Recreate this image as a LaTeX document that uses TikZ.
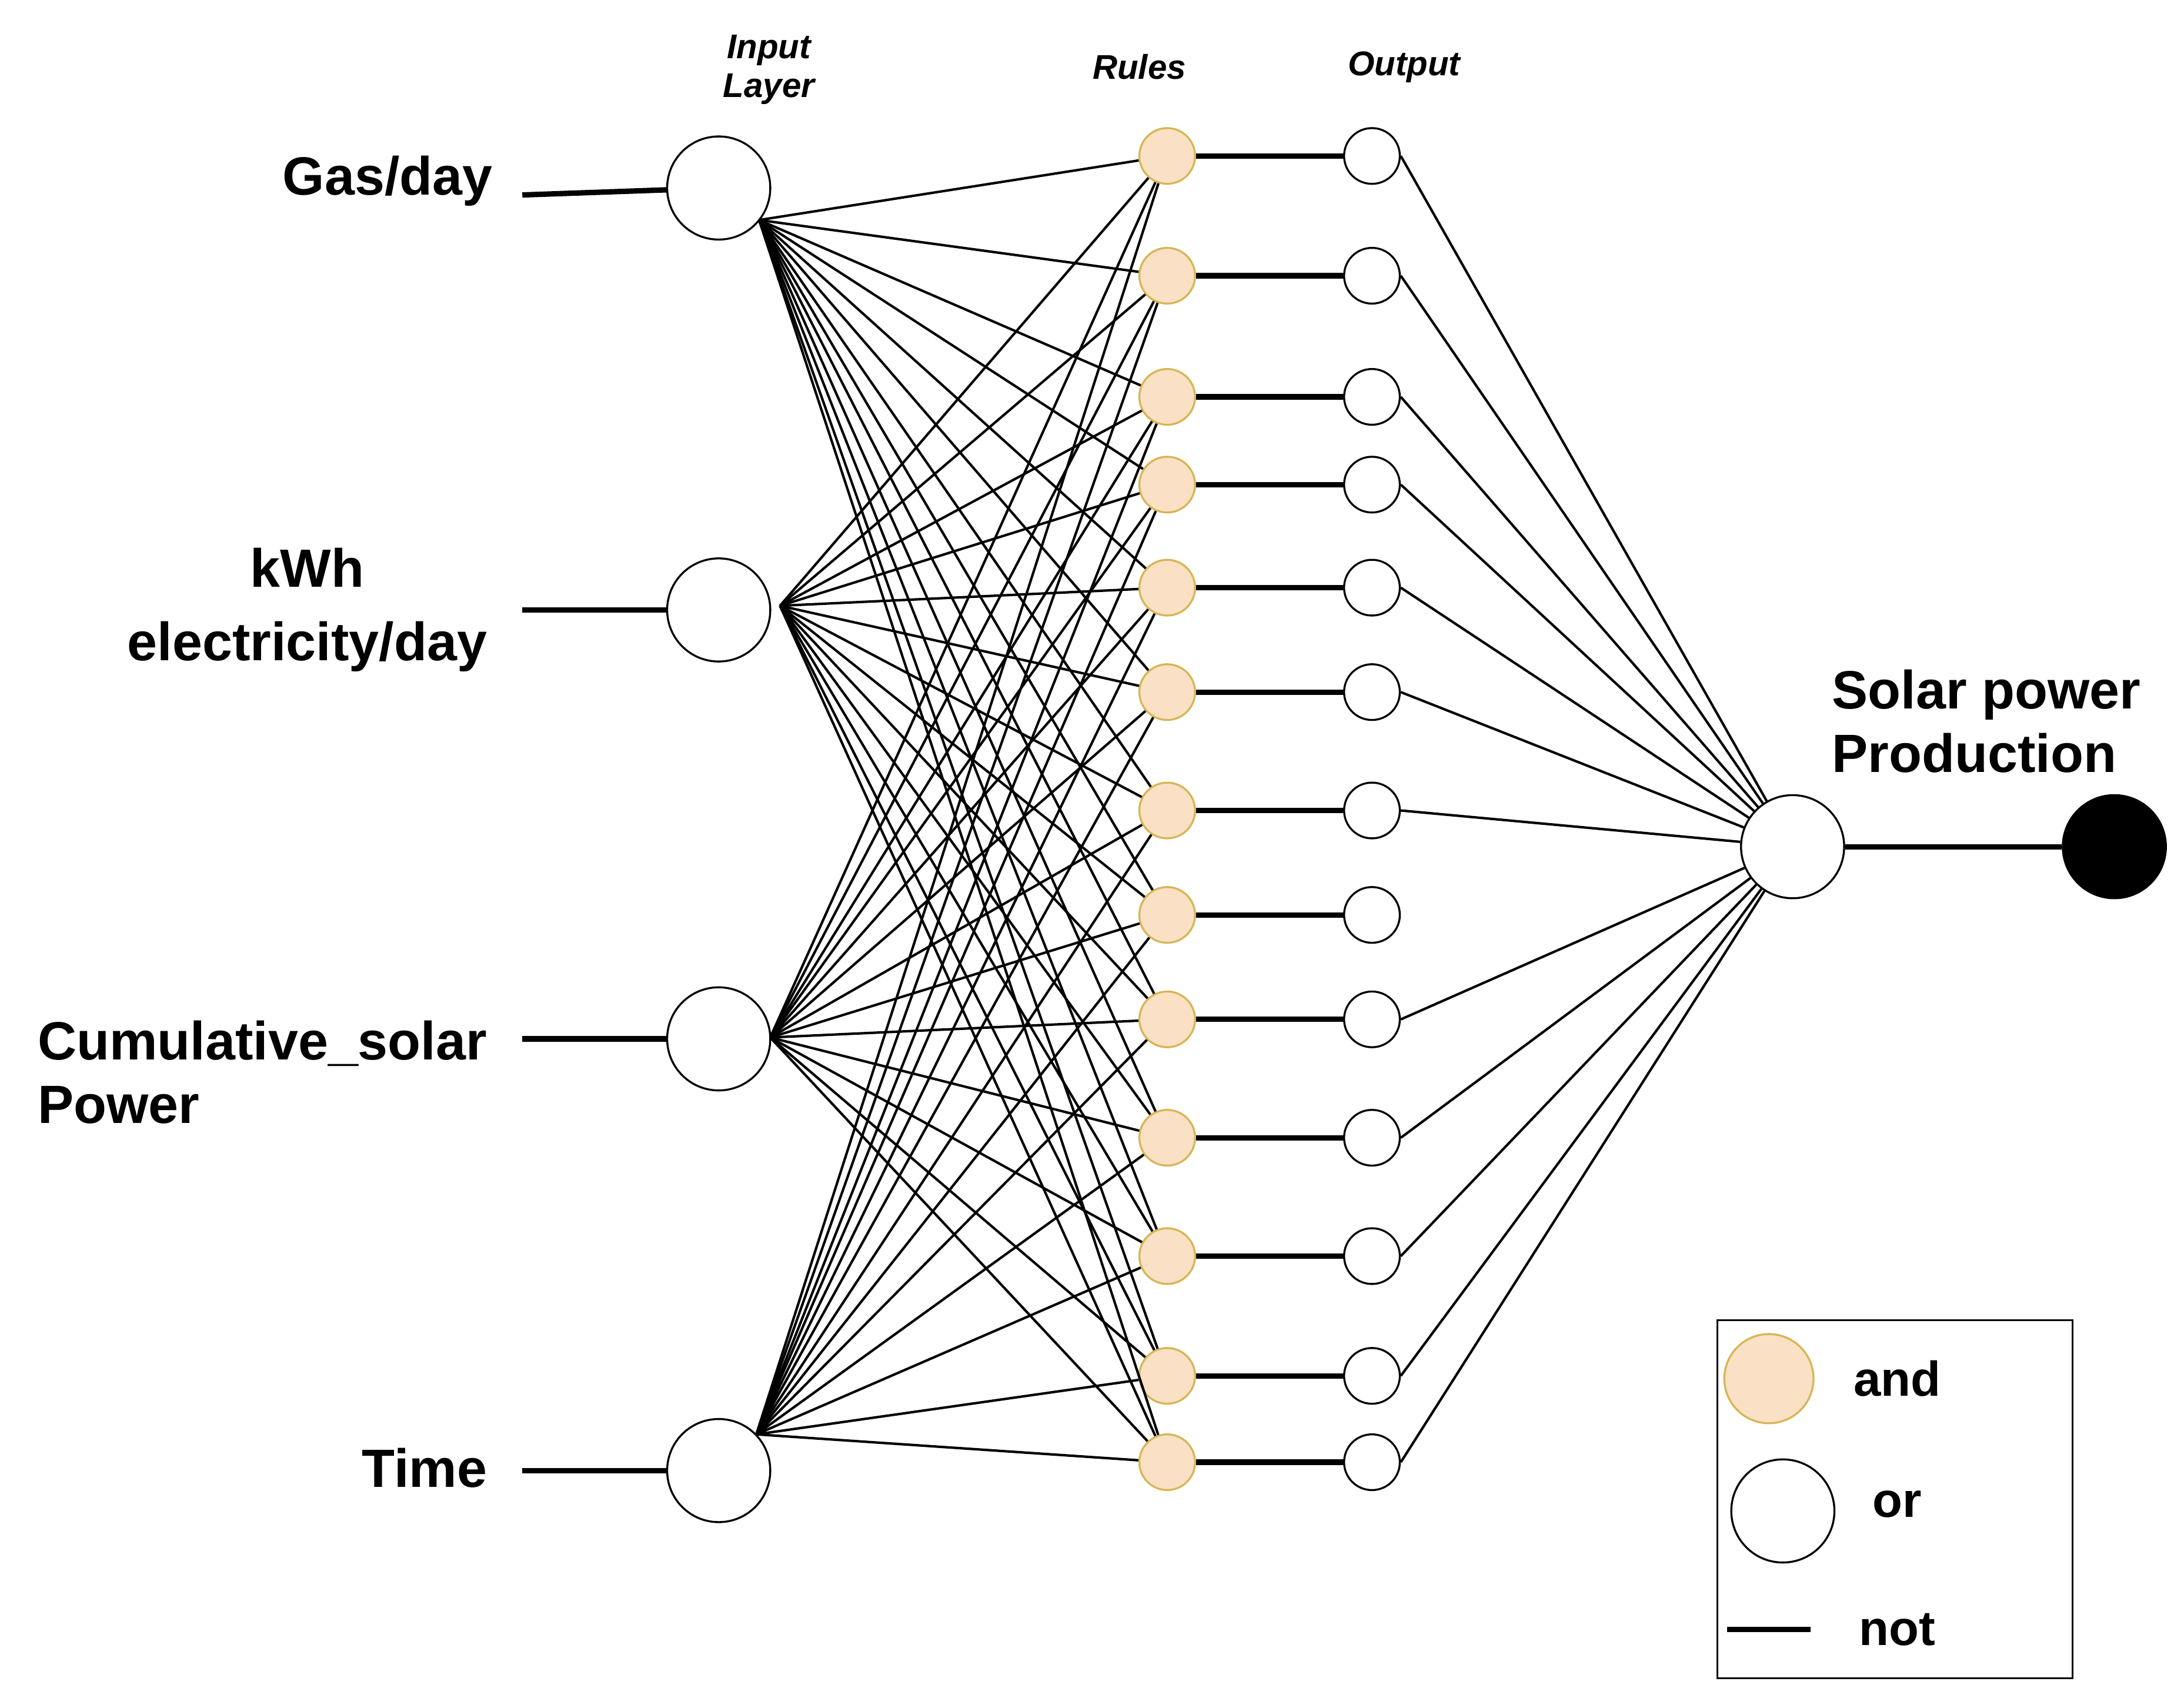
\documentclass[tikz,border=0pt]{standalone}
\usepackage{fontspec}
\setmainfont{Liberation Sans}
\usetikzlibrary{positioning,calc}
\tikzset{
  inp/.style={circle, draw=black, minimum size=7.4mm, inner sep=0pt},
  rule/.style={circle, draw={rgb,255:red,214;green,182;blue,86}, fill={rgb,255:red,250;green,224;blue,196}, minimum size=4mm, inner sep=0pt},
  outp/.style={circle, draw=black, minimum size=4mm, inner sep=0pt},
  lab/.style={font=\bfseries\fontsize{11}{13}\selectfont, align=left},
  head/.style={font=\itshape\bfseries\fontsize{7}{8}\selectfont, align=center}
}
\begin{document}
\begin{tikzpicture}[x=0.01cm,y=-0.01cm]
	\useasboundingbox (0,0) rectangle (1568,1224);
	% input layer
	\node[inp] (I1) at (516,135){};
	\node[inp] (I2) at (516,438){};
	\node[inp] (I3) at (516,746){};
	\node[inp] (I4) at (516,1056){};
	\coordinate (S1) at (375,140);
	\coordinate (S2) at (375,438);
	\coordinate (S3) at (375,746);
	\coordinate (S4) at (375,1056);
	\coordinate (P1) at (545,158);
	\coordinate (P2) at (560,435);
	\coordinate (P3) at (553,745);
	\coordinate (P4) at (543,1030);
	\node[lab, anchor=east] (L1) at (366,130){Gas/day};
	\node[lab, anchor=east, align=center] (L2) at (362,438){kWh\\[2pt]electricity/day};
	\node[lab, anchor=east] (L3) at (362,770){Cumulative\_solar\\Power};
	\node[lab, anchor=east] (L4) at (362,1054){Time};
	\foreach \i in {1,...,4}
		\draw[line width=1.1pt] (S\i) -- (I\i);
	% rules and outputs
	\foreach \y [count=\k] in {112,198,285,348,422,497,582,657,732,817,902,988,1050}{
		\node[rule] (R\k) at (838,\y){};
		\node[outp] (O\k) at (985,\y){};
		\draw[line width=1.1pt] (R\k) -- (O\k);
	}
	\foreach \i in {1,...,4}
		\foreach \k in {1,...,13}
			\draw[line width=0.5pt] (P\i) -- (R\k);
	% output node
	\node[inp] (F) at (1287,608){};
	\node[inp, fill=black] (E) at (1518,608){};
	\draw[line width=1.1pt] (F) -- (E);
	\foreach \k in {1,...,7,9,10,11,12,13}
		\draw[line width=0.5pt] (O\k.east) -- (F);
	\node[lab, anchor=west] (SP) at (1303,518){Solar power\\Production};
	% headers
	\node[head] (H1) at (552,50){Input\\Layer};
	\node[head] (H2) at (818,48){Rules};
	\node[head] (H3) at (1008,48){Output};
	% legend
	\draw (1233,948) rectangle (1488,1205);
	\node[rule, minimum size=6.4mm] (K1) at (1270,990){};
	\node[inp] (K2) at (1280,1085){};
	\coordinate (K3a) at (1240,1170);
	\coordinate (K3b) at (1300,1170);
	\draw[line width=1.1pt] (K3a) -- (K3b);
	\node[lab, font=\bfseries\fontsize{10}{12}\selectfont] (T1) at (1362,990){and};
	\node[lab, font=\bfseries\fontsize{10}{12}\selectfont] (T2) at (1362,1080){or};
	\node[lab, font=\bfseries\fontsize{10}{12}\selectfont] (T3) at (1362,1170){not};
\end{tikzpicture}
\end{document}
